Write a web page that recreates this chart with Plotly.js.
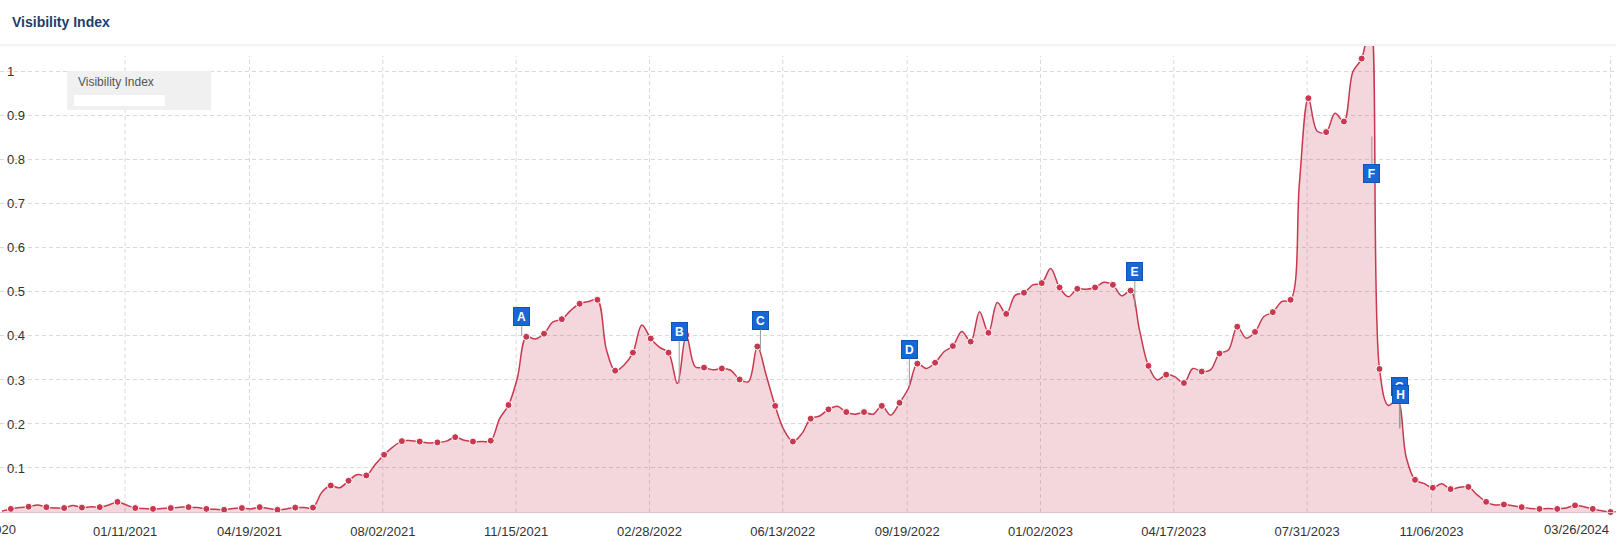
<!DOCTYPE html>
<html>
<head>
<meta charset="utf-8">
<script src="https://cdn.plot.ly/plotly-3.0.1.min.js"></script>
<style>
  html, body { margin: 0; padding: 0; background: #ffffff; }
  #chart { width: 1616px; height: 544px; }
</style>
</head>
<body>
<div id="chart"></div>
<script>
// ---------- DATA ----------
// weekly values (every Tuesday), first week below
const firstWeek = '2020-10-06';
const visibility = [
  0.002, 0.007, 0.010, 0.012, 0.016, 0.011, 0.009, 0.009, 0.015, 0.010,
  0.012, 0.011, 0.016, 0.023, 0.016, 0.009, 0.008, 0.007, 0.008, 0.009,
  0.011, 0.011, 0.010, 0.007, 0.006, 0.005, 0.008, 0.009, 0.007, 0.011,
  0.008, 0.005, 0.007, 0.010, 0.010, 0.010, 0.045, 0.060, 0.055, 0.071,
  0.085, 0.083, 0.108, 0.130, 0.148, 0.161, 0.162, 0.160, 0.157, 0.158,
  0.161, 0.170, 0.163, 0.160, 0.160, 0.162, 0.212, 0.243, 0.305, 0.398,
  0.393, 0.405, 0.432, 0.438, 0.458, 0.473, 0.478, 0.482, 0.370, 0.321,
  0.334, 0.362, 0.425, 0.394, 0.374, 0.362, 0.292, 0.402, 0.330, 0.328,
  0.323, 0.326, 0.322, 0.301, 0.296, 0.376, 0.310, 0.241, 0.186, 0.160,
  0.178, 0.212, 0.218, 0.233, 0.240, 0.227, 0.222, 0.227, 0.222, 0.241,
  0.220, 0.248, 0.281, 0.337, 0.326, 0.339, 0.364, 0.377, 0.410, 0.387,
  0.455, 0.407, 0.476, 0.450, 0.492, 0.498, 0.516, 0.520, 0.553, 0.510,
  0.489, 0.507, 0.506, 0.510, 0.522, 0.516, 0.491, 0.503, 0.413, 0.332,
  0.300, 0.312, 0.307, 0.293, 0.326, 0.319, 0.323, 0.360, 0.368, 0.421,
  0.395, 0.409, 0.444, 0.454, 0.478, 0.482, 0.750, 0.940, 0.865, 0.863,
  0.906, 0.887, 1.000, 1.030, 1.120, 0.325, 0.242, 0.255, 0.125, 0.073,
  0.065, 0.055, 0.064, 0.052, 0.056, 0.057, 0.039, 0.023, 0.016, 0.017,
  0.014, 0.011, 0.008, 0.007, 0.008, 0.007, 0.009, 0.015, 0.012, 0.007,
  0.003, 0.000, 0.000
];

const tickDates  = ['2021-01-11','2021-04-19','2021-08-02','2021-11-15','2022-02-28','2022-06-13',
                    '2022-09-19','2023-01-02','2023-04-17','2023-07-31','2023-11-06','2024-03-26'];
const tickLabels = ['01/11/2021','04/19/2021','08/02/2021','11/15/2021','02/28/2022','06/13/2022',
                    '09/19/2022','01/02/2023','04/17/2023','07/31/2023','11/06/2023','03/26/2024'];
const firstCutLabel = '09/28/2020';

const yTickVals   = [0.1, 0.2, 0.3, 0.4, 0.5, 0.6, 0.7, 0.8, 0.9, 1.0];
const yTickLabels = ['0.1','0.2','0.3','0.4','0.5','0.6','0.7','0.8','0.9','1'];

const flagLabels = ['A','B','C','D','E','F','G','H'];
const flagDates  = ['2021-11-19 10:00','2022-03-23 10:00','2022-05-26 10:00','2022-09-20 17:00',
                    '2023-03-17 07:00','2023-09-20 00:00','2023-10-11 17:00','2023-10-12 05:00'];
const flagValues = [0.400, 0.292, 0.367, 0.285, 0.466, 0.853, 0.190, 0.190];

// ---------- LAYOUT CONSTANTS (pixels) ----------
const W = 1616, H = 544;
const plotTop = 46, plotBottom = 512;
const plotH = plotBottom - plotTop;
const py = p => (plotBottom - p) / plotH;   // pixel y -> paper y
const px = p => p / W;                        // pixel x -> paper x
const flagOffsets = [-19, -52, -30, -37, -35, 37, -42, -33.5];

const FONT = '"Liberation Sans", Arial, sans-serif';
const lineColor = '#c8384f';

// weekly dates
const dates = visibility.map((v, i) => {
  const d = new Date(firstWeek + 'T00:00:00Z');
  d.setUTCDate(d.getUTCDate() + 7 * i);
  return d.toISOString().slice(0, 10);
});
const markX = dates.filter((d, i) => i % 2 === 1);
const markY = visibility.filter((v, i) => i % 2 === 1);

const traces = [
  {
    type: 'scatter', mode: 'lines', x: dates, y: visibility,
    line: { color: lineColor, width: 1.5, shape: 'spline', smoothing: 1 },
    fill: 'tozeroy', fillcolor: 'rgba(200,56,79,0.2)',
    hoverinfo: 'skip', showlegend: false
  },
  {
    type: 'scatter', mode: 'markers', x: markX, y: markY,
    marker: { color: lineColor, size: 7, line: { color: '#ffffff', width: 1 } },
    cliponaxis: false, showlegend: false
  }
];

const shapes = [];
// header separator
shapes.push({ type: 'line', xref: 'paper', yref: 'paper', x0: 0, x1: 1, y0: py(45), y1: py(45),
              line: { color: '#e6e6e6', width: 1 } });
// vertical grid lines
tickDates.forEach(d => shapes.push({
  type: 'line', xref: 'x', yref: 'paper', x0: d, x1: d, y0: 0, y1: py(56), layer: 'below',
  line: { color: '#d9d9d9', width: 1, dash: '4px,3px' }
}));
// legend box
shapes.push({ type: 'rect', xref: 'paper', yref: 'paper', x0: px(67), x1: px(211), y0: py(110), y1: py(71),
              fillcolor: '#f0f0f0', line: { width: 0 } });
shapes.push({ type: 'rect', xref: 'paper', yref: 'paper', x0: px(74), x1: px(165), y0: py(106), y1: py(95),
              fillcolor: '#ffffff', line: { width: 0 } });

const annotations = [];
annotations.push({ xref: 'paper', yref: 'paper', x: px(76), y: py(82.5), xanchor: 'left', yanchor: 'middle',
                   text: 'Visibility Index', showarrow: false, font: { family: FONT, size: 12, color: '#555555' } });
// first (cut) tick label at the left edge and last tick label pulled inside the plot
annotations.push({ xref: 'paper', yref: 'paper', x: px(18), y: py(529), xanchor: 'right', yanchor: 'middle',
                   text: firstCutLabel, showarrow: false, font: { family: FONT, size: 13, color: '#333333' } });
annotations.push({ xref: 'paper', yref: 'paper', x: px(1611), y: py(529), xanchor: 'right', yanchor: 'middle',
                   text: tickLabels[tickLabels.length - 1], showarrow: false,
                   font: { family: FONT, size: 13, color: '#333333' } });
flagLabels.forEach((t, i) => annotations.push({
  x: flagDates[i], y: flagValues[i], xref: 'x', yref: 'y',
  text: '<b>' + t + '</b>', showarrow: true, ax: 0, ay: flagOffsets[i],
  arrowhead: 0, arrowwidth: 1, arrowcolor: '#9a9a9a', standoff: 0, startstandoff: 0,
  bgcolor: '#1767d4', bordercolor: '#0f55b5', borderwidth: 1, borderpad: 2,
  width: 11, height: 13, font: { family: FONT, size: 12, color: '#ffffff' }
}));

const layout = {
  width: W, height: H,
  margin: { l: 0, r: 0, t: plotTop, b: H - plotBottom, pad: 0 },
  paper_bgcolor: '#ffffff', plot_bgcolor: '#ffffff',
  showlegend: false,
  title: { text: '<b>Visibility Index</b>', xref: 'container', yref: 'container',
           x: 12 / W, xanchor: 'left', y: 1 - 22 / H, yanchor: 'middle',
           font: { family: FONT, size: 14, color: '#1f3d6c' } },
  xaxis: {
    type: 'date', range: ['2020-10-04 11:00', '2024-03-30 07:00'],
    tickmode: 'array', tickvals: tickDates.slice(0, -1), ticktext: tickLabels.slice(0, -1),
    showgrid: false, zeroline: false, ticks: '', ticklabelstandoff: 7,
    showline: true, linecolor: '#dcc3ca', linewidth: 1,
    tickfont: { family: FONT, size: 13, color: '#333333' }, fixedrange: true
  },
  yaxis: {
    range: [0, plotH / 440.2],
    tickmode: 'array', tickvals: yTickVals, ticktext: yTickLabels,
    showgrid: true, gridcolor: '#d9d9d9', griddash: '4px,3px', gridwidth: 1,
    zeroline: false, ticks: '', ticklabelposition: 'inside', ticklabelstandoff: 4,
    tickfont: { family: FONT, size: 13, color: '#333333' }, fixedrange: true
  },
  shapes: shapes,
  annotations: annotations
};

Plotly.newPlot('chart', traces, layout, { displayModeBar: false, staticPlot: true });
</script>
</body>
</html>
